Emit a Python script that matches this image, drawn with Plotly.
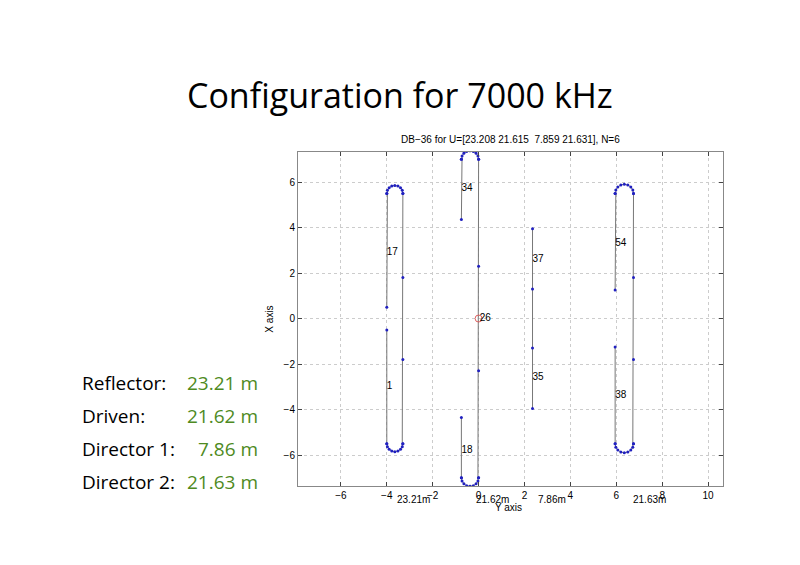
import numpy as np
import plotly.graph_objects as go

# element geometry (Y axis positions of the two legs, X extents)
elem_names = ["Reflector", "Driven", "Director 1", "Director 2"]
elem_lengths = ["23.21 m", "21.62 m", "7.86 m", "21.63 m"]
elem_tags = ["23.21m", "21.62m", "7.86m", "21.63m"]
tag_pos = [-2.85, 0.6, 3.2, 7.45]

# folded elements: left leg, right leg, bend start, inner end of left leg
folded = [
    (-4.0, -3.3, 5.5, 0.5),
    (-0.75, 0.0, 7.0, 4.35),
    (5.95, 6.75, 5.5, 1.25),
]
director_y = 2.35
director_ends = [-3.95, -1.3, 1.3, 3.95]

seg_dots_y = [-4.0, -4.0, -4.0, -4.0, -3.3, -3.3, -3.3, -3.3,
              -0.75, -0.75, -0.75, -0.75, 0.0, 0.0, 0.0, 0.0,
              5.95, 5.95, 5.95, 5.95, 6.75, 6.75, 6.75, 6.75]
seg_dots_x = [0.5, 5.5, -0.5, -5.5, 5.5, 1.8, -1.8, -5.5,
              4.35, 7.0, -4.35, -7.0, 7.0, 2.3, -2.3, -7.0,
              1.25, 5.5, -1.25, -5.5, 5.5, 1.8, -1.8, -5.5]

seg_labels = ["17", "1", "34", "18", "26", "37", "35", "54", "38"]
label_y = [-4.0, -4.0, -0.75, -0.75, 0.05, 2.35, 2.35, 5.95, 5.95]
label_x = [2.9, -3.0, 5.7, -5.8, 0.0, 2.6, -2.6, 3.3, -3.4]

OFF = 8  # page body margin
L, R, T, B = 298 - OFF, 723 - OFF, 152 - OFF, 486 - OFF


def px(x):
    return (x - OFF - L) / (R - L)


def py(y):
    return (B - (y - OFF)) / (B - T)


fig = go.Figure()

def arc(yl, yr, x0, up):
    c = (yl + yr) / 2
    r = (yr - yl) / 2
    t = np.linspace(np.pi, 0, 9)
    return c + r * np.cos(t), x0 + (1 if up else -1) * r * np.sin(t)

for yl, yr, xb, xi in folded:
    ta, tb = arc(yl, yr, xb, True)
    ba, bb = arc(yl, yr, -xb, False)
    ys = [yl] + list(ta) + list(ba[::-1]) + [yl]
    xs = [xi] + list(tb) + list(bb[::-1]) + [-xi]
    fig.add_trace(go.Scatter(x=ys, y=xs, mode="lines", line=dict(color="#777777", width=1),
                             hoverinfo="skip"))
    fig.add_trace(go.Scatter(x=list(ta) + list(ba), y=list(tb) + list(bb), mode="markers",
                             marker=dict(color="#2020c0", size=3)))

fig.add_trace(go.Scatter(x=[director_y] * 2, y=[director_ends[0], director_ends[-1]], mode="lines",
                         line=dict(color="#777777", width=1)))
fig.add_trace(go.Scatter(x=[director_y] * 4, y=director_ends, mode="markers",
                         marker=dict(color="#2020c0", size=3)))
fig.add_trace(go.Scatter(x=seg_dots_y, y=seg_dots_x, mode="markers",
                         marker=dict(color="#2020c0", size=3)))
fig.add_trace(go.Scatter(x=[0], y=[0], mode="markers",
                         marker=dict(color="rgba(0,0,0,0)", size=7, line=dict(color="#e06060", width=1))))
fig.add_trace(go.Scatter(x=label_y, y=label_x, mode="text", text=seg_labels, textposition="middle right",
                         textfont=dict(size=10, color="black", family="Liberation Sans")))

def note(x, y, text, size, color="black", family="Liberation Sans", xanchor="center", xref="paper"):
    fig.add_annotation(x=x, y=y, xref=xref, yref="paper", text=text, showarrow=False,
                       xanchor=xanchor, yanchor="middle",
                       font=dict(size=size, family=family, color=color))

for t, p in zip(elem_tags, tag_pos):
    note(p, py(499), t, 10, xref="x")
note(1.3, py(507), "Y axis", 10, xref="x")

for i, (n, l) in enumerate(zip(elem_names, elem_lengths)):
    ypx = 383 + i * 33
    note(px(80), py(ypx), n + ":", 19, family="Open Sans", xanchor="left")
    note(px(260), py(ypx), l, 19, color="#4e8a22", family="Open Sans", xanchor="right")

note(px(400), py(95), "Configuration for 7000 kHz", 34, family="Open Sans")
note(px(510), py(140), "DB−36 for U=[23.208 21.615  7.859 21.631], N=6", 10)

axis = dict(showgrid=True, gridcolor="#cccccc", griddash="dot", zeroline=False, ticks="inside",
            ticklen=4, mirror="ticks", showline=True, linecolor="#888888",
            tickfont=dict(size=10, family="Liberation Sans", color="black"))
fig.update_layout(
    width=800, height=565, showlegend=False, paper_bgcolor="white", plot_bgcolor="white",
    margin=dict(l=L, r=800 - R, t=T, b=565 - B, autoexpand=False),
    xaxis=dict(range=[-7.87, 10.65], dtick=2, **axis),
    yaxis=dict(range=[-7.36, 7.32], dtick=2, **axis,
               title=dict(text="X axis", standoff=8, font=dict(size=10, family="Liberation Sans", color="black"))),
)
fig.write_html("out.html")
